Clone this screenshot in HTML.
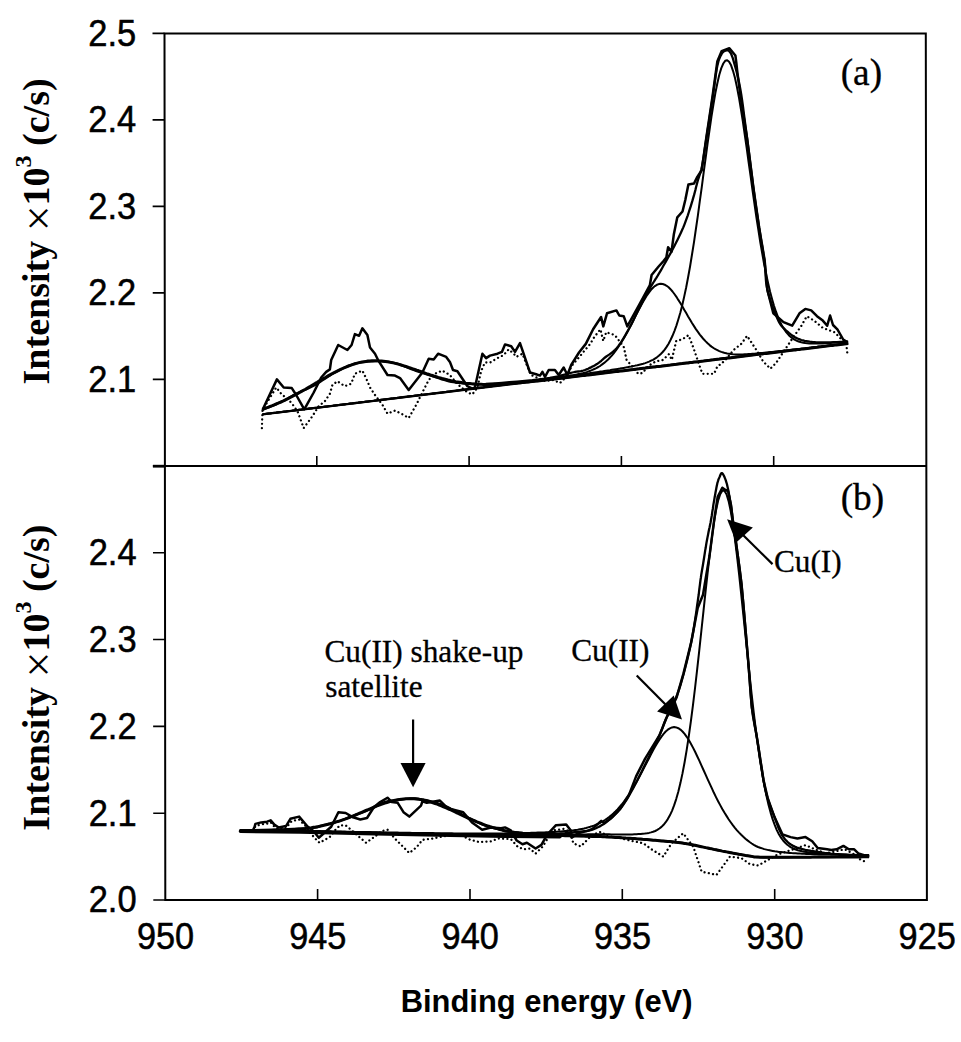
<!DOCTYPE html>
<html><head><meta charset="utf-8"><style>
html,body{margin:0;padding:0;background:#fff;width:961px;height:1042px;overflow:hidden}
svg{display:block}
</style></head><body>
<svg width="961" height="1042" viewBox="0 0 961 1042">
<path d="M164.50,33.4 L925.80,33.4 L926.90,900.0 L165.30,900.0 Z M164.90,465.9 L926.35,465.9" fill="none" stroke="#000" stroke-width="2.0"/>
<path d="M152.90,465.9H164.90 M153.30,900.0H165.30 M152.82,379.4H164.82 M153.22,813.2H165.22 M152.74,292.9H164.74 M153.14,726.4H165.14 M152.66,206.4H164.66 M153.06,639.5H165.06 M152.58,119.9H164.58 M152.98,552.7H164.98 M152.50,33.4H164.50 M152.90,465.9H164.90 M316.8,465.9v-10 M317.6,900.0v-11 M469.1,465.9v-10 M470.0,900.0v-11 M621.4,465.9v-10 M622.3,900.0v-11 M773.7,465.9v-10 M774.7,900.0v-11" stroke="#000" stroke-width="1.6" fill="none"/>
<path d="M152.90,466.2 H164.90" stroke="#000" stroke-width="2.8" fill="none"/>
<g font-family="Liberation Sans, sans-serif" font-size="35" stroke="#000" stroke-width="0.5"><text transform="translate(136.2,391.7) scale(0.985,1.06)" text-anchor="end">2.1</text><text transform="translate(136.2,305.2) scale(0.985,1.06)" text-anchor="end">2.2</text><text transform="translate(136.2,218.7) scale(0.985,1.06)" text-anchor="end">2.3</text><text transform="translate(136.2,132.2) scale(0.985,1.06)" text-anchor="end">2.4</text><text transform="translate(136.2,45.7) scale(0.985,1.06)" text-anchor="end">2.5</text><text transform="translate(136.6,912.4) scale(0.985,1.06)" text-anchor="end">2.0</text><text transform="translate(136.6,825.6) scale(0.985,1.06)" text-anchor="end">2.1</text><text transform="translate(136.6,738.8) scale(0.985,1.06)" text-anchor="end">2.2</text><text transform="translate(136.6,651.9) scale(0.985,1.06)" text-anchor="end">2.3</text><text transform="translate(136.6,565.1) scale(0.985,1.06)" text-anchor="end">2.4</text><text transform="translate(165.5,948.6) scale(0.98,1.03)" text-anchor="middle">950</text><text transform="translate(317.8,948.6) scale(0.98,1.03)" text-anchor="middle">945</text><text transform="translate(470.2,948.6) scale(0.98,1.03)" text-anchor="middle">940</text><text transform="translate(622.5,948.6) scale(0.98,1.03)" text-anchor="middle">935</text><text transform="translate(774.9,948.6) scale(0.98,1.03)" text-anchor="middle">930</text><text transform="translate(927.2,948.6) scale(0.98,1.03)" text-anchor="middle">925</text></g>
<text x="546.6" y="1012.3" text-anchor="middle" font-family="Liberation Sans, sans-serif" font-weight="bold" font-size="30.9">Binding energy (eV)</text>
<text transform="translate(49,231.4) rotate(-90)" text-anchor="middle" font-family="Liberation Serif, serif" font-weight="bold" font-size="38">Intensity <tspan font-weight="normal" font-size="46" dy="4.5">&#215;</tspan><tspan dy="-4.5">10</tspan><tspan dy="-18" font-size="24">3</tspan><tspan dy="18"> (c/s)</tspan></text>
<text transform="translate(49,677.6) rotate(-90)" text-anchor="middle" font-family="Liberation Serif, serif" font-weight="bold" font-size="38">Intensity <tspan font-weight="normal" font-size="46" dy="4.5">&#215;</tspan><tspan dy="-4.5">10</tspan><tspan dy="-18" font-size="24">3</tspan><tspan dy="18"> (c/s)</tspan></text>
<g font-family="Liberation Serif, serif" font-size="37.3" stroke="#000" stroke-width="0.3"><text x="840.7" y="84.5">(a)</text><text x="840.7" y="510.3">(b)</text></g>
<g font-family="Liberation Serif, serif" font-size="31.3" stroke="#000" stroke-width="0.3"><text transform="translate(324.5,661.9) scale(1,1.04)">Cu(II) shake-up</text><text transform="translate(325.3,696.9) scale(1,1.04)">satellite</text><text transform="translate(571.2,661) scale(1,1.04)">Cu(II)</text><text transform="translate(773.9,571.7) scale(1,1.04)">Cu(I)</text></g>
<path d="M262.5,414.4 L848.2,343.5" stroke="#000" stroke-width="2.2" fill="none"/>
<path d="M262.5,414.2 L264.5,414.0 L266.4,413.8 L268.4,413.5 L270.3,413.3 L272.3,413.0 L274.2,412.8 L276.2,412.6 L278.1,412.3 L280.1,412.1 L282.0,411.9 L284.0,411.6 L285.9,411.4 L287.9,411.1 L289.8,410.9 L291.8,410.7 L293.7,410.4 L295.7,410.2 L297.6,410.0 L299.6,409.7 L301.5,409.5 L303.5,409.2 L305.5,409.0 L307.4,408.8 L309.4,408.5 L311.3,408.3 L313.3,408.1 L315.2,407.8 L317.2,407.6 L319.1,407.3 L321.1,407.1 L323.0,406.9 L325.0,406.6 L326.9,406.4 L328.9,406.1 L330.8,405.9 L332.8,405.7 L334.7,405.4 L336.7,405.2 L338.6,405.0 L340.6,404.7 L342.5,404.5 L344.5,404.2 L346.5,404.0 L348.4,403.8 L350.4,403.5 L352.3,403.3 L354.3,403.0 L356.2,402.8 L358.2,402.6 L360.1,402.3 L362.1,402.1 L364.0,401.9 L366.0,401.6 L367.9,401.4 L369.9,401.1 L371.8,400.9 L373.8,400.7 L375.7,400.4 L377.7,400.2 L379.6,399.9 L381.6,399.7 L383.5,399.5 L385.5,399.2 L387.4,399.0 L389.4,398.7 L391.4,398.5 L393.3,398.3 L395.3,398.0 L397.2,397.8 L399.2,397.5 L401.1,397.3 L403.1,397.1 L405.0,396.8 L407.0,396.6 L408.9,396.3 L410.9,396.1 L412.8,395.9 L414.8,395.6 L416.7,395.4 L418.7,395.1 L420.6,394.9 L422.6,394.7 L424.5,394.4 L426.5,394.2 L428.4,393.9 L430.4,393.7 L432.4,393.5 L434.3,393.2 L436.3,393.0 L438.2,392.7 L440.2,392.5 L442.1,392.3 L444.1,392.0 L446.0,391.8 L448.0,391.5 L449.9,391.3 L451.9,391.0 L453.8,390.8 L455.8,390.6 L457.7,390.3 L459.7,390.1 L461.6,389.8 L463.6,389.6 L465.5,389.4 L467.5,389.1 L469.4,388.9 L471.4,388.6 L473.4,388.4 L475.3,388.1 L477.3,387.9 L479.2,387.6 L481.2,387.4 L483.1,387.2 L485.1,386.9 L487.0,386.7 L489.0,386.4 L490.9,386.2 L492.9,385.9 L494.8,385.7 L496.8,385.4 L498.7,385.2 L500.7,384.9 L502.6,384.7 L504.6,384.5 L506.5,384.2 L508.5,384.0 L510.4,383.7 L512.4,383.5 L514.4,383.2 L516.3,383.0 L518.3,382.7 L520.2,382.5 L522.2,382.2 L524.1,382.0 L526.1,381.7 L528.0,381.5 L530.0,381.2 L531.9,381.0 L533.9,380.7 L535.8,380.5 L537.8,380.2 L539.7,380.0 L541.7,379.7 L543.6,379.4 L545.6,379.2 L547.5,378.9 L549.5,378.7 L551.4,378.4 L553.4,378.2 L555.4,377.9 L557.3,377.6 L559.3,377.4 L561.2,377.1 L563.2,376.9 L565.1,376.6 L567.1,376.3 L569.0,376.1 L571.0,375.8 L572.9,375.5 L574.9,375.3 L576.8,375.0 L578.8,374.7 L580.7,374.5 L582.7,374.2 L584.6,373.9 L586.6,373.6 L588.5,373.4 L590.5,373.1 L592.4,372.8 L594.4,372.5 L596.3,372.2 L598.3,371.9 L600.3,371.6 L602.2,371.4 L604.2,371.1 L606.1,370.8 L608.1,370.5 L610.0,370.2 L612.0,369.8 L613.9,369.5 L615.9,369.2 L617.8,368.9 L619.8,368.6 L621.7,368.2 L623.7,367.9 L625.6,367.6 L627.6,367.2 L629.5,366.8 L631.5,366.5 L633.4,366.1 L635.4,365.6 L637.3,365.2 L639.3,364.7 L641.3,364.2 L643.2,363.7 L645.2,363.1 L647.1,362.4 L649.1,361.6 L651.0,360.7 L653.0,359.8 L654.9,358.6 L656.9,357.3 L658.8,355.8 L660.8,354.0 L662.7,352.0 L664.7,349.6 L666.6,346.9 L668.6,343.7 L670.5,340.0 L672.5,335.8 L674.4,331.1 L676.4,325.6 L678.3,319.5 L680.3,312.7 L682.3,305.0 L684.2,296.6 L686.2,287.3 L688.1,277.2 L690.1,266.3 L692.0,254.5 L694.0,242.1 L695.9,229.0 L697.9,215.3 L699.8,201.2 L701.8,186.8 L703.7,172.2 L705.7,157.7 L707.6,143.4 L709.6,129.5 L711.5,116.3 L713.5,104.0 L715.4,92.8 L717.4,83.0 L719.3,74.7 L721.3,68.1 L723.3,63.5 L725.2,60.8 L727.2,60.2 L729.1,61.7 L731.1,65.3 L733.0,70.8 L735.0,78.0 L736.9,86.9 L738.9,97.2 L740.8,108.7 L742.8,121.2 L744.7,134.4 L746.7,148.1 L748.6,162.1 L750.6,176.2 L752.5,190.2 L754.5,204.0 L756.4,217.3 L758.4,230.1 L760.3,242.3 L762.3,253.8 L764.2,264.5 L766.2,274.4 L768.2,283.5 L770.1,291.8 L772.1,299.2 L774.0,305.8 L776.0,311.7 L777.9,316.9 L779.9,321.4 L781.8,325.3 L783.8,328.7 L785.7,331.5 L787.7,333.9 L789.6,336.0 L791.6,337.6 L793.5,339.0 L795.5,340.1 L797.4,341.0 L799.4,341.8 L801.3,342.3 L803.3,342.7 L805.2,343.1 L807.2,343.3 L809.2,343.5 L811.1,343.6 L813.1,343.6 L815.0,343.6 L817.0,343.6 L818.9,343.6 L820.9,343.5 L822.8,343.4 L824.8,343.3 L826.7,343.2 L828.7,343.1 L830.6,342.9 L832.6,342.8 L834.5,342.6 L836.5,342.5 L838.4,342.3 L840.4,342.2 L842.3,342.0 L844.3,341.8 L846.2,341.7 L848.2,341.5" stroke="#000" stroke-width="2.0" fill="none" stroke-linejoin="round"/>
<path d="M262.5,414.3 L264.5,414.1 L266.4,413.8 L268.4,413.6 L270.3,413.4 L272.3,413.1 L274.2,412.9 L276.2,412.7 L278.1,412.4 L280.1,412.2 L282.0,411.9 L284.0,411.7 L285.9,411.5 L287.9,411.2 L289.8,411.0 L291.8,410.8 L293.7,410.5 L295.7,410.3 L297.6,410.0 L299.6,409.8 L301.5,409.6 L303.5,409.3 L305.5,409.1 L307.4,408.9 L309.4,408.6 L311.3,408.4 L313.3,408.1 L315.2,407.9 L317.2,407.7 L319.1,407.4 L321.1,407.2 L323.0,407.0 L325.0,406.7 L326.9,406.5 L328.9,406.3 L330.8,406.0 L332.8,405.8 L334.7,405.5 L336.7,405.3 L338.6,405.1 L340.6,404.8 L342.5,404.6 L344.5,404.4 L346.5,404.1 L348.4,403.9 L350.4,403.6 L352.3,403.4 L354.3,403.2 L356.2,402.9 L358.2,402.7 L360.1,402.4 L362.1,402.2 L364.0,402.0 L366.0,401.7 L367.9,401.5 L369.9,401.3 L371.8,401.0 L373.8,400.8 L375.7,400.5 L377.7,400.3 L379.6,400.1 L381.6,399.8 L383.5,399.6 L385.5,399.4 L387.4,399.1 L389.4,398.9 L391.4,398.6 L393.3,398.4 L395.3,398.2 L397.2,397.9 L399.2,397.7 L401.1,397.4 L403.1,397.2 L405.0,397.0 L407.0,396.7 L408.9,396.5 L410.9,396.3 L412.8,396.0 L414.8,395.8 L416.7,395.5 L418.7,395.3 L420.6,395.1 L422.6,394.8 L424.5,394.6 L426.5,394.3 L428.4,394.1 L430.4,393.9 L432.4,393.6 L434.3,393.4 L436.3,393.1 L438.2,392.9 L440.2,392.7 L442.1,392.4 L444.1,392.2 L446.0,391.9 L448.0,391.7 L449.9,391.5 L451.9,391.2 L453.8,391.0 L455.8,390.7 L457.7,390.5 L459.7,390.3 L461.6,390.0 L463.6,389.8 L465.5,389.5 L467.5,389.3 L469.4,389.1 L471.4,388.8 L473.4,388.6 L475.3,388.3 L477.3,388.1 L479.2,387.8 L481.2,387.6 L483.1,387.4 L485.1,387.1 L487.0,386.9 L489.0,386.6 L490.9,386.4 L492.9,386.1 L494.8,385.9 L496.8,385.6 L498.7,385.4 L500.7,385.2 L502.6,384.9 L504.6,384.7 L506.5,384.4 L508.5,384.2 L510.4,383.9 L512.4,383.7 L514.4,383.4 L516.3,383.2 L518.3,382.9 L520.2,382.7 L522.2,382.4 L524.1,382.2 L526.1,381.9 L528.0,381.7 L530.0,381.4 L531.9,381.2 L533.9,380.9 L535.8,380.7 L537.8,380.4 L539.7,380.1 L541.7,379.9 L543.6,379.6 L545.6,379.4 L547.5,379.1 L549.5,378.8 L551.4,378.6 L553.4,378.3 L555.4,378.0 L557.3,377.8 L559.3,377.5 L561.2,377.2 L563.2,376.9 L565.1,376.6 L567.1,376.3 L569.0,376.0 L571.0,375.6 L572.9,375.3 L574.9,374.9 L576.8,374.5 L578.8,374.1 L580.7,373.7 L582.7,373.2 L584.6,372.6 L586.6,372.1 L588.5,371.4 L590.5,370.7 L592.4,369.9 L594.4,369.0 L596.3,368.1 L598.3,367.0 L600.3,365.8 L602.2,364.4 L604.2,362.9 L606.1,361.3 L608.1,359.5 L610.0,357.5 L612.0,355.3 L613.9,353.0 L615.9,350.5 L617.8,347.7 L619.8,344.8 L621.7,341.7 L623.7,338.5 L625.6,335.0 L627.6,331.5 L629.5,327.8 L631.5,324.0 L633.4,320.2 L635.4,316.3 L637.3,312.5 L639.3,308.7 L641.3,305.0 L643.2,301.5 L645.2,298.2 L647.1,295.1 L649.1,292.3 L651.0,289.8 L653.0,287.7 L654.9,286.1 L656.9,284.8 L658.8,284.1 L660.8,283.8 L662.7,284.0 L664.7,284.7 L666.6,285.8 L668.6,287.3 L670.5,289.2 L672.5,291.5 L674.4,294.0 L676.4,296.8 L678.3,299.9 L680.3,303.0 L682.3,306.3 L684.2,309.7 L686.2,313.1 L688.1,316.4 L690.1,319.7 L692.0,323.0 L694.0,326.1 L695.9,329.1 L697.9,331.9 L699.8,334.6 L701.8,337.0 L703.7,339.3 L705.7,341.4 L707.6,343.3 L709.6,345.1 L711.5,346.6 L713.5,348.0 L715.4,349.2 L717.4,350.2 L719.3,351.1 L721.3,351.9 L723.3,352.5 L725.2,353.1 L727.2,353.5 L729.1,353.8 L731.1,354.1 L733.0,354.3 L735.0,354.4 L736.9,354.4 L738.9,354.5 L740.8,354.5 L742.8,354.4 L744.7,354.3 L746.7,354.2 L748.6,354.1 L750.6,354.0 L752.5,353.8 L754.5,353.7 L756.4,353.5 L758.4,353.3 L760.3,353.1 L762.3,352.9 L764.2,352.7 L766.2,352.5 L768.2,352.3 L770.1,352.1 L772.1,351.9 L774.0,351.7 L776.0,351.5 L777.9,351.3 L779.9,351.1 L781.8,350.9 L783.8,350.6 L785.7,350.4 L787.7,350.2 L789.6,350.0 L791.6,349.8 L793.5,349.5 L795.5,349.3 L797.4,349.1 L799.4,348.9 L801.3,348.7 L803.3,348.4 L805.2,348.2 L807.2,348.0 L809.2,347.8 L811.1,347.5 L813.1,347.3 L815.0,347.1 L817.0,346.9 L818.9,346.6 L820.9,346.4 L822.8,346.2 L824.8,345.9 L826.7,345.7 L828.7,345.5 L830.6,345.3 L832.6,345.0 L834.5,344.8 L836.5,344.6 L838.4,344.3 L840.4,344.1 L842.3,343.9 L844.3,343.7 L846.2,343.4 L848.2,343.2" stroke="#000" stroke-width="2.0" fill="none" stroke-linejoin="round"/>
<path d="M262.5,409.1 L264.5,408.4 L266.4,407.8 L268.4,407.1 L270.3,406.3 L272.3,405.6 L274.2,404.8 L276.2,404.0 L278.1,403.2 L280.1,402.3 L282.0,401.5 L284.0,400.6 L285.9,399.6 L287.9,398.7 L289.8,397.7 L291.8,396.7 L293.7,395.7 L295.7,394.7 L297.6,393.6 L299.6,392.5 L301.5,391.4 L303.5,390.3 L305.5,389.2 L307.4,388.0 L309.4,386.9 L311.3,385.7 L313.3,384.6 L315.2,383.4 L317.2,382.3 L319.1,381.1 L321.1,380.0 L323.0,378.8 L325.0,377.7 L326.9,376.6 L328.9,375.4 L330.8,374.4 L332.8,373.3 L334.7,372.3 L336.7,371.3 L338.6,370.3 L340.6,369.4 L342.5,368.5 L344.5,367.6 L346.5,366.8 L348.4,366.0 L350.4,365.3 L352.3,364.6 L354.3,364.0 L356.2,363.4 L358.2,362.9 L360.1,362.4 L362.1,362.0 L364.0,361.7 L366.0,361.4 L367.9,361.1 L369.9,360.9 L371.8,360.8 L373.8,360.8 L375.7,360.7 L377.7,360.8 L379.6,360.9 L381.6,361.0 L383.5,361.2 L385.5,361.5 L387.4,361.8 L389.4,362.1 L391.4,362.5 L393.3,362.9 L395.3,363.4 L397.2,363.9 L399.2,364.4 L401.1,365.0 L403.1,365.6 L405.0,366.2 L407.0,366.8 L408.9,367.5 L410.9,368.1 L412.8,368.8 L414.8,369.5 L416.7,370.2 L418.7,370.8 L420.6,371.5 L422.6,372.2 L424.5,372.9 L426.5,373.6 L428.4,374.2 L430.4,374.9 L432.4,375.5 L434.3,376.2 L436.3,376.8 L438.2,377.4 L440.2,377.9 L442.1,378.5 L444.1,379.0 L446.0,379.5 L448.0,380.0 L449.9,380.4 L451.9,380.9 L453.8,381.3 L455.8,381.7 L457.7,382.0 L459.7,382.3 L461.6,382.6 L463.6,382.9 L465.5,383.2 L467.5,383.4 L469.4,383.6 L471.4,383.8 L473.4,383.9 L475.3,384.1 L477.3,384.2 L479.2,384.3 L481.2,384.3 L483.1,384.4 L485.1,384.4 L487.0,384.4 L489.0,384.4 L490.9,384.4 L492.9,384.4 L494.8,384.3 L496.8,384.3 L498.7,384.2 L500.7,384.1 L502.6,384.0 L504.6,383.9 L506.5,383.8 L508.5,383.6 L510.4,383.5 L512.4,383.3 L514.4,383.2 L516.3,383.0 L518.3,382.8 L520.2,382.7 L522.2,382.5 L524.1,382.3 L526.1,382.1 L528.0,381.9 L530.0,381.7 L531.9,381.5 L533.9,381.3 L535.8,381.1 L537.8,380.9 L539.7,380.7 L541.7,380.4 L543.6,380.2 L545.6,380.0 L547.5,379.8 L549.5,379.6 L551.4,379.3 L553.4,379.1 L555.4,378.9 L557.3,378.6 L559.3,378.4 L561.2,378.2 L563.2,378.0 L565.1,377.7 L567.1,377.5 L569.0,377.3 L571.0,377.0 L572.9,376.8 L574.9,376.6 L576.8,376.3 L578.8,376.1 L580.7,375.8 L582.7,375.6 L584.6,375.4 L586.6,375.1 L588.5,374.9 L590.5,374.7 L592.4,374.4 L594.4,374.2 L596.3,374.0 L598.3,373.7 L600.3,373.5 L602.2,373.3 L604.2,373.0 L606.1,372.8 L608.1,372.5 L610.0,372.3 L612.0,372.1 L613.9,371.8 L615.9,371.6 L617.8,371.4 L619.8,371.1 L621.7,370.9 L623.7,370.7 L625.6,370.4 L627.6,370.2 L629.5,369.9 L631.5,369.7 L633.4,369.5 L635.4,369.2 L637.3,369.0 L639.3,368.8 L641.3,368.5 L643.2,368.3 L645.2,368.1 L647.1,367.8 L649.1,367.6 L651.0,367.3 L653.0,367.1 L654.9,366.9 L656.9,366.6 L658.8,366.4 L660.8,366.2 L662.7,365.9 L664.7,365.7 L666.6,365.5 L668.6,365.2 L670.5,365.0 L672.5,364.7 L674.4,364.5 L676.4,364.3 L678.3,364.0 L680.3,363.8 L682.3,363.6 L684.2,363.3 L686.2,363.1 L688.1,362.9 L690.1,362.6 L692.0,362.4 L694.0,362.1 L695.9,361.9 L697.9,361.7 L699.8,361.4 L701.8,361.2 L703.7,361.0 L705.7,360.7 L707.6,360.5 L709.6,360.3 L711.5,360.0 L713.5,359.8 L715.4,359.5 L717.4,359.3 L719.3,359.1 L721.3,358.8 L723.3,358.6 L725.2,358.4 L727.2,358.1 L729.1,357.9 L731.1,357.7 L733.0,357.4 L735.0,357.2 L736.9,356.9 L738.9,356.7 L740.8,356.5 L742.8,356.2 L744.7,356.0 L746.7,355.8 L748.6,355.5 L750.6,355.3 L752.5,355.1 L754.5,354.8 L756.4,354.6 L758.4,354.3 L760.3,354.1 L762.3,353.9 L764.2,353.6 L766.2,353.4 L768.2,353.2 L770.1,352.9 L772.1,352.7 L774.0,352.5 L776.0,352.2 L777.9,352.0 L779.9,351.7 L781.8,351.5 L783.8,351.3 L785.7,351.0 L787.7,350.8 L789.6,350.6 L791.6,350.3 L793.5,350.1 L795.5,349.9 L797.4,349.6 L799.4,349.4 L801.3,349.1 L803.3,348.9 L805.2,348.7 L807.2,348.4 L809.2,348.2 L811.1,348.0 L813.1,347.7 L815.0,347.5 L817.0,347.3 L818.9,347.0 L820.9,346.8 L822.8,346.5 L824.8,346.3 L826.7,346.1 L828.7,345.8 L830.6,345.6 L832.6,345.4 L834.5,345.1 L836.5,344.9 L838.4,344.7 L840.4,344.4 L842.3,344.2 L844.3,343.9 L846.2,343.7 L848.2,343.5" stroke="#000" stroke-width="3.0" fill="none" stroke-linejoin="round"/>
<path d="M262.5,410.0 L264.2,409.3 L266.4,408.3 L269.1,407.2 L272.1,406.0 L275.2,404.6 L278.2,403.3 L280.9,402.1 L283.3,401.0 L285.3,400.0 L286.9,399.1 L288.5,398.2 L289.9,397.3 L291.3,396.5 L292.7,395.6 L294.4,394.7 L296.2,393.7 L298.3,392.7 L300.5,391.7 L302.8,390.7 L305.2,389.7 L307.6,388.6 L310.1,387.5 L312.6,386.3 L315.0,385.0 L317.4,383.6 L319.9,382.1 L322.4,380.4 L324.9,378.8 L327.4,377.1 L329.9,375.5 L332.4,373.9 L334.9,372.5 L337.4,371.2 L339.9,369.9 L342.4,368.7 L344.9,367.5 L347.4,366.4 L349.9,365.4 L352.4,364.5 L354.9,363.7 L357.4,363.1 L359.9,362.5 L362.4,362.1 L364.9,361.8 L367.5,361.5 L370.0,361.4 L372.5,361.3 L375.0,361.2 L377.5,361.2 L380.0,361.2 L382.6,361.4 L385.1,361.6 L387.6,361.8 L390.1,362.2 L392.6,362.6 L395.0,363.1 L397.4,363.7 L399.8,364.5 L402.1,365.4 L404.4,366.3 L406.7,367.2 L409.1,368.2 L411.4,369.1 L413.7,370.0 L416.0,370.8 L418.4,371.6 L420.7,372.4 L423.0,373.2 L425.4,373.9 L427.7,374.7 L430.1,375.5 L432.4,376.2 L434.7,377.0 L437.1,377.7 L439.4,378.5 L441.8,379.3 L444.2,380.0 L446.5,380.7 L448.9,381.3 L451.2,381.8 L453.5,382.2 L455.8,382.6 L458.2,382.9 L460.5,383.1 L462.8,383.3 L465.1,383.4 L467.5,383.6 L469.9,383.7 L472.1,383.8 L474.0,384.0 L475.8,384.1 L477.7,384.1 L479.8,384.1 L482.5,384.1 L485.8,384.0 L490.0,383.7 L495.4,383.3 L501.9,382.8 L509.3,382.2 L517.0,381.6 L524.9,380.9 L532.4,380.2 L539.2,379.4 L545.0,378.7 L549.8,378.0 L554.1,377.1 L558.0,376.3 L561.4,375.4 L564.4,374.6 L567.2,373.8 L569.9,373.1 L572.4,372.5 L574.7,372.0 L576.6,371.7 L578.2,371.5 L579.6,371.3 L580.9,371.1 L582.1,370.8 L583.4,370.5 L584.9,370.0 L586.5,369.4 L588.1,368.7 L589.8,367.9 L591.5,367.1 L593.1,366.2 L594.6,365.4 L596.1,364.5 L597.4,363.7 L598.6,362.9 L599.6,362.2 L600.4,361.5 L601.3,360.8 L602.1,360.0 L602.9,359.3 L603.9,358.4 L605.0,357.5 L606.3,356.5 L607.6,355.6 L609.1,354.6 L610.5,353.6 L612.1,352.5 L613.6,351.2 L615.1,349.8 L616.6,348.2 L618.1,346.4 L619.5,344.4 L621.0,342.3 L622.4,340.0 L623.9,337.6 L625.4,335.1 L626.8,332.6 L628.3,330.0 L629.8,327.3 L631.3,324.4 L632.8,321.4 L634.3,318.3 L635.7,315.2 L637.2,312.2 L638.6,309.3 L640.0,306.6 L641.3,304.0 L642.7,301.5 L643.9,299.1 L645.2,296.8 L646.4,294.5 L647.6,292.3 L648.8,290.3 L649.9,288.3 L650.9,286.5 L651.9,284.9 L652.8,283.4 L653.7,282.0 L654.6,280.6 L655.5,279.2 L656.5,277.7 L657.5,276.0 L658.6,274.1 L659.8,272.2 L661.0,270.1 L662.2,268.0 L663.4,265.8 L664.6,263.7 L665.8,261.6 L666.9,259.6 L668.0,257.7 L669.0,255.9 L670.0,254.2 L671.0,252.4 L671.9,250.7 L672.9,248.8 L673.9,246.9 L675.0,244.8 L676.1,242.6 L677.3,240.2 L678.5,237.8 L679.7,235.3 L680.9,232.7 L682.1,230.1 L683.3,227.4 L684.4,224.6 L685.5,221.7 L686.6,218.7 L687.7,215.6 L688.7,212.5 L689.7,209.4 L690.7,206.3 L691.6,203.3 L692.5,200.4 L693.3,197.6 L694.1,194.9 L694.8,192.2 L695.5,189.6 L696.1,187.1 L696.7,184.7 L697.3,182.4 L697.9,180.2 L698.5,178.3 L699.0,176.8 L699.5,175.4 L699.9,174.2 L700.4,172.8 L700.9,171.2 L701.4,169.2 L701.9,166.7 L702.5,163.6 L703.1,160.2 L703.7,156.4 L704.3,152.4 L704.9,148.1 L705.6,143.8 L706.2,139.4 L706.9,135.0 L707.6,130.5 L708.3,125.9 L709.1,121.1 L709.8,116.2 L710.6,111.3 L711.3,106.5 L712.0,101.8 L712.7,97.4 L713.3,93.0 L713.9,88.7 L714.5,84.3 L715.1,80.1 L715.6,76.1 L716.2,72.3 L716.7,69.0 L717.3,66.0 L717.9,63.5 L718.4,61.4 L718.9,59.7 L719.5,58.3 L720.0,57.0 L720.5,55.9 L721.1,55.0 L721.6,54.0 L722.1,53.1 L722.7,52.4 L723.2,51.9 L723.8,51.4 L724.3,51.1 L724.9,50.9 L725.4,50.7 L725.9,50.5 L726.4,50.4 L726.8,50.3 L727.3,50.2 L727.7,50.2 L728.2,50.4 L728.6,50.6 L729.0,51.0 L729.5,51.5 L729.9,52.1 L730.4,52.6 L730.8,53.2 L731.2,54.0 L731.6,55.0 L732.1,56.3 L732.7,57.9 L733.3,60.0 L734.0,62.5 L734.8,65.3 L735.7,68.4 L736.6,71.8 L737.5,75.6 L738.5,79.7 L739.4,84.2 L740.3,89.0 L741.2,94.3 L742.1,100.2 L743.0,106.6 L743.8,113.2 L744.7,120.0 L745.6,126.8 L746.5,133.5 L747.3,140.0 L748.1,146.4 L749.0,152.9 L749.8,159.4 L750.6,165.8 L751.4,172.2 L752.2,178.4 L752.9,184.3 L753.7,190.0 L754.4,195.4 L755.1,200.4 L755.8,205.3 L756.5,210.0 L757.2,214.6 L757.9,219.1 L758.5,223.5 L759.2,228.0 L759.9,232.5 L760.6,236.9 L761.3,241.3 L762.1,245.6 L762.8,249.9 L763.4,254.0 L764.1,258.1 L764.6,262.0 L765.0,265.8 L765.3,269.4 L765.5,272.9 L765.7,276.3 L765.9,279.7 L766.2,283.1 L766.7,286.5 L767.4,290.0 L768.3,293.7 L769.5,297.6 L770.8,301.7 L772.2,305.7 L773.7,309.5 L775.1,313.1 L776.4,316.4 L777.6,319.1 L778.6,321.3 L779.5,323.0 L780.4,324.4 L781.2,325.5 L782.0,326.4 L782.8,327.3 L783.8,328.2 L784.9,329.3 L786.1,330.5 L787.5,331.7 L788.9,332.9 L790.4,334.1 L791.9,335.2 L793.5,336.3 L795.0,337.3 L796.6,338.1 L798.2,338.8 L799.7,339.4 L801.3,340.0 L803.0,340.4 L804.6,340.8 L806.3,341.1 L808.0,341.4 L809.7,341.7 L811.4,341.9 L813.0,342.1 L814.7,342.2 L816.4,342.3 L818.1,342.4 L820.0,342.4 L822.0,342.4 L824.3,342.4 L827.0,342.4 L830.1,342.3 L833.4,342.2 L836.9,342.1 L840.2,342.0 L843.2,341.9 L845.7,341.8 L847.6,341.7" stroke="#000" stroke-width="2.3" fill="none" stroke-linejoin="round"/>
<path d="M262.5,410.0 L276.9,379.4 L283.7,387.5 L291.8,388.1 L296.2,395.0 L304.3,409.3 L313.7,392.5 L321.2,377.5 L326.2,371.9 L329.9,369.4 L331.2,360.0 L338.2,345.0 L347.4,350.0 L351.6,345.0 L354.9,334.1 L359.1,335.8 L362.4,328.3 L367.4,335.0 L370.0,347.5 L375.0,353.7 L378.7,361.2 L387.5,375.0 L395.0,375.6 L400.0,378.1 L408.7,390.0 L422.4,372.5 L428.7,358.7 L433.7,359.4 L438.1,353.7 L446.2,356.9 L449.9,361.9 L453.0,370.0 L457.4,371.2 L467.4,386.2 L472.4,388.7 L474.9,387.5 L482.4,353.7 L486.1,358.1 L490.0,355.6 L497.5,353.7 L501.9,351.9 L505.0,344.4 L511.2,346.2 L515.0,351.9 L520.0,343.1 L530.0,372.5 L536.2,374.3 L540.0,375.6 L542.4,371.8 L545.0,376.8 L548.7,370.0 L554.9,370.0 L558.7,375.0 L563.7,367.5 L567.4,375.0 L571.2,365.0 L579.0,352.5 L585.8,343.9 L593.1,329.3 L601.1,317.0 L603.3,326.4 L607.0,313.3 L616.4,310.4 L619.3,315.5 L623.7,316.2 L627.3,326.4 L640.0,303.3 L649.9,285.0 L651.6,275.0 L658.6,266.5 L663.5,261.1 L666.3,257.6 L668.1,247.2 L671.5,251.8 L673.8,234.6 L677.3,217.3 L682.5,211.5 L685.3,200.0 L688.4,184.6 L694.0,183.5 L697.3,176.9 L701.7,170.2 L706.1,139.3 L712.7,95.2 L717.3,61.6 L721.6,51.2 L729.4,48.2 L735.4,55.5 L736.3,62.5 L737.1,70.2 L740.3,95.2 L747.3,140.0 L753.7,190.0 L759.2,228.0 L764.6,260.0 L767.4,290.0 L773.3,313.3 L783.5,322.1 L792.2,325.7 L799.5,313.3 L805.3,308.9 L811.2,310.4 L817.0,316.2 L822.8,320.6 L827.2,325.7 L830.1,315.5 L833.0,325.0 L837.4,329.3 L843.2,339.5 L847.6,342.4" stroke="#000" stroke-width="2.5" fill="none" stroke-linejoin="round"/>
<path d="M261.9,428.1 L262.5,410.0 L276.2,387.5 L281.2,393.7 L291.2,402.5 L297.5,411.2 L303.7,428.1 L312.4,416.2 L318.7,406.2 L324.9,401.2 L329.9,393.7 L332.4,385.0 L337.4,381.2 L344.9,386.2 L351.2,383.7 L354.9,373.7 L362.4,370.6 L367.4,381.2 L370.0,387.5 L375.0,395.0 L382.5,404.9 L387.5,413.7 L395.0,410.6 L403.7,414.9 L408.7,418.0 L416.2,404.9 L422.4,392.4 L428.7,380.0 L434.9,373.7 L442.4,370.6 L449.9,375.0 L454.9,381.2 L459.9,386.2 L467.4,392.4 L472.4,394.3 L477.4,387.5 L481.1,371.2 L484.9,362.5 L490.0,362.5 L497.5,358.1 L503.7,355.0 L508.7,349.4 L513.7,353.7 L516.2,356.8 L522.5,353.7 L526.2,363.7 L531.0,375.0 L545.0,381.0 L553.0,380.0 L560.0,383.0 L566.0,377.0 L572.4,365.0 L579.9,356.2 L590.2,343.9 L594.6,336.6 L600.4,329.3 L603.3,341.0 L606.2,332.2 L615.0,335.2 L619.3,341.0 L623.7,346.8 L626.6,359.9 L638.3,373.8 L642.6,373.0 L648.5,365.8 L655.8,361.4 L663.0,359.9 L668.9,354.1 L671.8,359.9 L676.2,341.0 L682.0,339.5 L688.5,335.2 L693.6,348.3 L699.5,365.8 L702.4,373.8 L714.0,373.8 L717.7,365.8 L720.8,364.3 L726.7,358.5 L733.9,349.7 L741.2,343.9 L747.1,335.9 L751.4,342.4 L757.2,351.2 L763.1,361.4 L770.4,368.7 L776.2,362.8 L782.0,354.1 L787.8,345.4 L793.7,336.6 L801.0,326.4 L806.8,316.2 L814.1,320.6 L822.8,327.9 L834.5,332.2 L840.3,338.1 L846.1,342.4 L847.6,355.6" stroke="#000" stroke-width="2.3" fill="none" stroke-linecap="round" stroke-dasharray="0.01 4.3"/>
<path d="M240.1,830.5 L244.6,830.5 L250.5,830.6 L257.5,830.7 L265.4,830.7 L273.8,830.8 L282.6,830.9 L291.4,831.1 L300.0,831.2 L308.7,831.4 L317.7,831.6 L327.0,831.8 L336.6,832.0 L346.2,832.2 L355.9,832.5 L365.5,832.7 L375.0,832.9 L384.5,833.1 L394.2,833.3 L404.0,833.5 L413.8,833.7 L423.3,834.0 L432.7,834.2 L441.6,834.3 L450.0,834.5 L457.8,834.6 L465.2,834.8 L472.1,834.9 L478.8,835.0 L485.3,835.1 L491.7,835.2 L498.3,835.3 L505.0,835.4 L512.0,835.5 L519.1,835.5 L526.3,835.6 L533.4,835.6 L540.5,835.6 L547.3,835.7 L553.8,835.7 L560.0,835.8 L565.8,835.9 L571.4,836.0 L576.8,836.0 L581.9,836.1 L586.8,836.2 L591.4,836.3 L595.8,836.5 L600.0,836.6 L603.8,836.7 L607.3,836.9 L610.5,837.1 L613.4,837.2 L616.3,837.4 L619.1,837.6 L622.0,837.8 L625.0,838.0 L628.1,838.2 L631.1,838.4 L634.0,838.6 L637.0,838.8 L640.0,839.1 L643.2,839.3 L646.5,839.6 L650.0,839.9 L653.8,840.2 L657.7,840.5 L661.8,840.9 L666.1,841.3 L670.4,841.7 L674.7,842.1 L679.0,842.6 L683.2,843.2 L687.5,843.9 L691.9,844.7 L696.3,845.6 L700.8,846.5 L705.1,847.5 L709.2,848.4 L713.0,849.2 L716.5,849.9 L719.5,850.5 L722.2,851.0 L724.7,851.5 L726.9,852.0 L729.0,852.4 L731.0,852.7 L733.0,853.1 L735.0,853.5 L737.1,853.9 L739.1,854.3 L741.1,854.6 L743.0,855.0 L744.9,855.3 L746.7,855.6 L748.4,855.9 L750.0,856.1 L751.3,856.3 L752.1,856.5 L752.8,856.7 L753.4,856.8 L754.3,856.9 L755.5,857.0 L757.3,857.1 L760.0,857.2 L763.4,857.3 L767.2,857.3 L771.5,857.3 L776.3,857.3 L781.6,857.3 L787.3,857.3 L793.4,857.2 L800.0,857.2 L807.7,857.2 L816.8,857.1 L826.8,857.1 L837.0,857.0 L847.0,856.9 L856.0,856.9 L863.6,856.8 L869.1,856.8" stroke="#000" stroke-width="2.2" fill="none"/>
<path d="M240.1,830.3 L242.2,830.4 L244.3,830.4 L246.4,830.4 L248.5,830.4 L250.6,830.4 L252.7,830.5 L254.8,830.5 L256.9,830.5 L259.0,830.5 L261.1,830.5 L263.2,830.6 L265.3,830.6 L267.4,830.6 L269.5,830.6 L271.6,830.6 L273.6,830.7 L275.7,830.7 L277.8,830.7 L279.9,830.7 L282.0,830.7 L284.1,830.8 L286.2,830.8 L288.3,830.8 L290.4,830.9 L292.5,830.9 L294.6,830.9 L296.7,830.9 L298.8,831.0 L300.9,831.0 L303.0,831.1 L305.1,831.1 L307.2,831.1 L309.3,831.2 L311.4,831.2 L313.5,831.3 L315.6,831.3 L317.7,831.3 L319.8,831.4 L321.9,831.4 L324.0,831.5 L326.1,831.5 L328.2,831.6 L330.3,831.6 L332.4,831.7 L334.4,831.7 L336.5,831.8 L338.6,831.8 L340.7,831.8 L342.8,831.9 L344.9,831.9 L347.0,832.0 L349.1,832.0 L351.2,832.1 L353.3,832.1 L355.4,832.2 L357.5,832.2 L359.6,832.3 L361.7,832.3 L363.8,832.4 L365.9,832.4 L368.0,832.5 L370.1,832.5 L372.2,832.5 L374.3,832.6 L376.4,832.6 L378.5,832.7 L380.6,832.7 L382.7,832.8 L384.8,832.8 L386.9,832.8 L389.0,832.9 L391.1,832.9 L393.2,833.0 L395.3,833.0 L397.4,833.1 L399.4,833.1 L401.5,833.1 L403.6,833.2 L405.7,833.2 L407.8,833.3 L409.9,833.3 L412.0,833.3 L414.1,833.4 L416.2,833.4 L418.3,833.5 L420.4,833.5 L422.5,833.5 L424.6,833.6 L426.7,833.6 L428.8,833.7 L430.9,833.7 L433.0,833.7 L435.1,833.8 L437.2,833.8 L439.3,833.8 L441.4,833.9 L443.5,833.9 L445.6,833.9 L447.7,834.0 L449.8,834.0 L451.9,834.0 L454.0,834.1 L456.1,834.1 L458.2,834.1 L460.2,834.2 L462.3,834.2 L464.4,834.2 L466.5,834.3 L468.6,834.3 L470.7,834.3 L472.8,834.3 L474.9,834.4 L477.0,834.4 L479.1,834.4 L481.2,834.4 L483.3,834.5 L485.4,834.5 L487.5,834.5 L489.6,834.5 L491.7,834.6 L493.8,834.6 L495.9,834.6 L498.0,834.6 L500.1,834.6 L502.2,834.6 L504.3,834.6 L506.4,834.6 L508.5,834.7 L510.6,834.7 L512.7,834.7 L514.8,834.7 L516.9,834.7 L519.0,834.7 L521.1,834.7 L523.1,834.7 L525.2,834.6 L527.3,834.6 L529.4,834.6 L531.5,834.6 L533.6,834.6 L535.7,834.6 L537.8,834.6 L539.9,834.6 L542.0,834.6 L544.1,834.6 L546.2,834.5 L548.3,834.5 L550.4,834.5 L552.5,834.5 L554.6,834.5 L556.7,834.5 L558.8,834.5 L560.9,834.5 L563.0,834.5 L565.1,834.4 L567.2,834.4 L569.3,834.4 L571.4,834.4 L573.5,834.4 L575.6,834.4 L577.7,834.4 L579.8,834.4 L581.9,834.4 L584.0,834.4 L586.0,834.4 L588.1,834.3 L590.2,834.3 L592.3,834.3 L594.4,834.3 L596.5,834.3 L598.6,834.3 L600.7,834.3 L602.8,834.3 L604.9,834.3 L607.0,834.3 L609.1,834.3 L611.2,834.4 L613.3,834.4 L615.4,834.4 L617.5,834.4 L619.6,834.4 L621.7,834.5 L623.8,834.5 L625.9,834.5 L628.0,834.4 L630.1,834.4 L632.2,834.4 L634.3,834.3 L636.4,834.2 L638.5,834.1 L640.6,834.0 L642.7,833.8 L644.8,833.6 L646.9,833.3 L649.0,832.9 L651.0,832.4 L653.1,831.8 L655.2,831.0 L657.3,829.9 L659.4,828.5 L661.5,826.9 L663.6,824.8 L665.7,822.2 L667.8,819.1 L669.9,815.3 L672.0,810.8 L674.1,805.4 L676.2,799.1 L678.3,791.7 L680.4,783.1 L682.5,773.4 L684.6,762.3 L686.7,749.9 L688.8,736.2 L690.9,721.2 L693.0,704.9 L695.1,687.5 L697.2,669.2 L699.3,650.1 L701.4,630.5 L703.5,610.8 L705.6,591.2 L707.7,572.2 L709.8,554.2 L711.9,537.6 L713.9,522.9 L716.0,510.5 L718.1,500.8 L720.2,494.1 L722.3,490.7 L724.4,490.7 L726.5,494.2 L728.6,501.1 L730.7,511.0 L732.8,523.7 L734.9,538.8 L737.0,555.9 L739.1,574.5 L741.2,594.2 L743.3,614.5 L745.4,635.0 L747.5,655.5 L749.6,675.4 L751.7,694.8 L753.8,713.2 L755.9,730.3 L758.0,746.1 L760.1,760.5 L762.2,773.6 L764.3,785.3 L766.4,795.6 L768.5,804.7 L770.6,812.6 L772.7,819.4 L774.8,825.2 L776.8,830.1 L778.9,834.2 L781.0,837.7 L783.1,840.5 L785.2,842.8 L787.3,844.8 L789.4,846.3 L791.5,847.6 L793.6,848.7 L795.7,849.5 L797.8,850.2 L799.9,850.8 L802.0,851.3 L804.1,851.7 L806.2,852.0 L808.3,852.3 L810.4,852.6 L812.5,852.8 L814.6,853.0 L816.7,853.2 L818.8,853.3 L820.9,853.5 L823.0,853.6 L825.1,853.7 L827.2,853.8 L829.3,854.0 L831.4,854.1 L833.5,854.1 L835.6,854.2 L837.6,854.3 L839.7,854.4 L841.8,854.5 L843.9,854.5 L846.0,854.6 L848.1,854.7 L850.2,854.7 L852.3,854.8 L854.4,854.8 L856.5,854.9 L858.6,854.9 L860.7,855.0 L862.8,855.0 L864.9,855.1 L867.0,855.1 L869.1,855.1" stroke="#000" stroke-width="2.0" fill="none" stroke-linejoin="round"/>
<path d="M240.1,830.2 L242.2,830.2 L244.3,830.2 L246.4,830.2 L248.5,830.3 L250.6,830.3 L252.7,830.3 L254.8,830.3 L256.9,830.3 L259.0,830.3 L261.1,830.3 L263.2,830.4 L265.3,830.4 L267.4,830.4 L269.5,830.4 L271.6,830.4 L273.6,830.5 L275.7,830.5 L277.8,830.5 L279.9,830.5 L282.0,830.5 L284.1,830.6 L286.2,830.6 L288.3,830.6 L290.4,830.6 L292.5,830.7 L294.6,830.7 L296.7,830.7 L298.8,830.8 L300.9,830.8 L303.0,830.8 L305.1,830.9 L307.2,830.9 L309.3,830.9 L311.4,831.0 L313.5,831.0 L315.6,831.0 L317.7,831.1 L319.8,831.1 L321.9,831.2 L324.0,831.2 L326.1,831.3 L328.2,831.3 L330.3,831.3 L332.4,831.4 L334.4,831.4 L336.5,831.5 L338.6,831.5 L340.7,831.6 L342.8,831.6 L344.9,831.6 L347.0,831.7 L349.1,831.7 L351.2,831.8 L353.3,831.8 L355.4,831.9 L357.5,831.9 L359.6,831.9 L361.7,832.0 L363.8,832.0 L365.9,832.1 L368.0,832.1 L370.1,832.1 L372.2,832.2 L374.3,832.2 L376.4,832.3 L378.5,832.3 L380.6,832.3 L382.7,832.4 L384.8,832.4 L386.9,832.4 L389.0,832.5 L391.1,832.5 L393.2,832.5 L395.3,832.6 L397.4,832.6 L399.4,832.7 L401.5,832.7 L403.6,832.7 L405.7,832.8 L407.8,832.8 L409.9,832.8 L412.0,832.9 L414.1,832.9 L416.2,832.9 L418.3,832.9 L420.4,833.0 L422.5,833.0 L424.6,833.0 L426.7,833.1 L428.8,833.1 L430.9,833.1 L433.0,833.1 L435.1,833.2 L437.2,833.2 L439.3,833.2 L441.4,833.2 L443.5,833.3 L445.6,833.3 L447.7,833.3 L449.8,833.3 L451.9,833.3 L454.0,833.4 L456.1,833.4 L458.2,833.4 L460.2,833.4 L462.3,833.4 L464.4,833.4 L466.5,833.5 L468.6,833.5 L470.7,833.5 L472.8,833.5 L474.9,833.5 L477.0,833.5 L479.1,833.5 L481.2,833.5 L483.3,833.5 L485.4,833.5 L487.5,833.5 L489.6,833.5 L491.7,833.5 L493.8,833.5 L495.9,833.5 L498.0,833.5 L500.1,833.4 L502.2,833.4 L504.3,833.4 L506.4,833.4 L508.5,833.4 L510.6,833.3 L512.7,833.3 L514.8,833.3 L516.9,833.2 L519.0,833.2 L521.1,833.1 L523.1,833.1 L525.2,833.0 L527.3,833.0 L529.4,832.9 L531.5,832.8 L533.6,832.8 L535.7,832.7 L537.8,832.6 L539.9,832.5 L542.0,832.5 L544.1,832.4 L546.2,832.3 L548.3,832.2 L550.4,832.1 L552.5,832.0 L554.6,831.9 L556.7,831.7 L558.8,831.6 L560.9,831.5 L563.0,831.3 L565.1,831.1 L567.2,831.0 L569.3,830.7 L571.4,830.5 L573.5,830.3 L575.6,830.0 L577.7,829.7 L579.8,829.3 L581.9,828.9 L584.0,828.5 L586.0,828.0 L588.1,827.4 L590.2,826.8 L592.3,826.1 L594.4,825.4 L596.5,824.5 L598.6,823.6 L600.7,822.5 L602.8,821.3 L604.9,820.0 L607.0,818.6 L609.1,817.1 L611.2,815.4 L613.3,813.5 L615.4,811.5 L617.5,809.4 L619.6,807.0 L621.7,804.5 L623.8,801.8 L625.9,798.9 L628.0,795.8 L630.1,792.6 L632.2,789.2 L634.3,785.7 L636.4,782.0 L638.5,778.2 L640.6,774.3 L642.7,770.3 L644.8,766.3 L646.9,762.3 L649.0,758.2 L651.0,754.2 L653.1,750.3 L655.2,746.6 L657.3,743.0 L659.4,739.6 L661.5,736.6 L663.6,733.9 L665.7,731.5 L667.8,729.7 L669.9,728.3 L672.0,727.4 L674.1,727.1 L676.2,727.4 L678.3,728.2 L680.4,729.6 L682.5,731.5 L684.6,733.9 L686.7,736.8 L688.8,740.0 L690.9,743.7 L693.0,747.6 L695.1,751.8 L697.2,756.2 L699.3,760.7 L701.4,765.3 L703.5,770.0 L705.6,774.7 L707.7,779.3 L709.8,783.9 L711.9,788.4 L713.9,792.8 L716.0,797.1 L718.1,801.2 L720.2,805.1 L722.3,808.9 L724.4,812.5 L726.5,815.9 L728.6,819.2 L730.7,822.2 L732.8,825.1 L734.9,827.8 L737.0,830.3 L739.1,832.6 L741.2,834.8 L743.3,836.8 L745.4,838.7 L747.5,840.4 L749.6,842.0 L751.7,843.5 L753.8,844.9 L755.9,846.0 L758.0,847.0 L760.1,847.7 L762.2,848.4 L764.3,849.1 L766.4,849.6 L768.5,850.1 L770.6,850.5 L772.7,850.9 L774.8,851.3 L776.8,851.6 L778.9,851.9 L781.0,852.1 L783.1,852.3 L785.2,852.5 L787.3,852.7 L789.4,852.9 L791.5,853.1 L793.6,853.2 L795.7,853.3 L797.8,853.5 L799.9,853.6 L802.0,853.7 L804.1,853.8 L806.2,853.9 L808.3,854.0 L810.4,854.1 L812.5,854.1 L814.6,854.2 L816.7,854.3 L818.8,854.4 L820.9,854.4 L823.0,854.5 L825.1,854.5 L827.2,854.6 L829.3,854.6 L831.4,854.7 L833.5,854.7 L835.6,854.8 L837.6,854.8 L839.7,854.9 L841.8,854.9 L843.9,854.9 L846.0,855.0 L848.1,855.0 L850.2,855.0 L852.3,855.1 L854.4,855.1 L856.5,855.1 L858.6,855.1 L860.7,855.2 L862.8,855.2 L864.9,855.2 L867.0,855.2 L869.1,855.2" stroke="#000" stroke-width="2.0" fill="none" stroke-linejoin="round"/>
<path d="M240.1,830.5 L242.2,830.5 L244.3,830.5 L246.4,830.5 L248.5,830.5 L250.6,830.5 L252.7,830.5 L254.8,830.5 L256.9,830.5 L259.0,830.5 L261.1,830.5 L263.2,830.5 L265.3,830.4 L267.4,830.4 L269.5,830.4 L271.6,830.4 L273.6,830.3 L275.7,830.3 L277.8,830.2 L279.9,830.2 L282.0,830.1 L284.1,830.0 L286.2,829.9 L288.3,829.8 L290.4,829.7 L292.5,829.6 L294.6,829.5 L296.7,829.3 L298.8,829.1 L300.9,828.9 L303.0,828.7 L305.1,828.5 L307.2,828.2 L309.3,828.0 L311.4,827.7 L313.5,827.3 L315.6,827.0 L317.7,826.6 L319.8,826.2 L321.9,825.8 L324.0,825.3 L326.1,824.8 L328.2,824.3 L330.3,823.8 L332.4,823.2 L334.4,822.6 L336.5,821.9 L338.6,821.3 L340.7,820.6 L342.8,819.8 L344.9,819.1 L347.0,818.3 L349.1,817.5 L351.2,816.7 L353.3,815.8 L355.4,815.0 L357.5,814.1 L359.6,813.2 L361.7,812.3 L363.8,811.4 L365.9,810.5 L368.0,809.7 L370.1,808.8 L372.2,807.9 L374.3,807.0 L376.4,806.2 L378.5,805.4 L380.6,804.6 L382.7,803.9 L384.8,803.1 L386.9,802.5 L389.0,801.8 L391.1,801.2 L393.2,800.7 L395.3,800.2 L397.4,799.8 L399.4,799.5 L401.5,799.2 L403.6,799.0 L405.7,798.8 L407.8,798.7 L409.9,798.7 L412.0,798.7 L414.1,798.8 L416.2,799.0 L418.3,799.3 L420.4,799.6 L422.5,800.0 L424.6,800.4 L426.7,800.9 L428.8,801.5 L430.9,802.1 L433.0,802.8 L435.1,803.5 L437.2,804.2 L439.3,805.1 L441.4,805.9 L443.5,806.8 L445.6,807.7 L447.7,808.6 L449.8,809.5 L451.9,810.5 L454.0,811.5 L456.1,812.5 L458.2,813.4 L460.2,814.4 L462.3,815.4 L464.4,816.4 L466.5,817.3 L468.6,818.3 L470.7,819.2 L472.8,820.1 L474.9,821.0 L477.0,821.9 L479.1,822.7 L481.2,823.5 L483.3,824.3 L485.4,825.1 L487.5,825.8 L489.6,826.5 L491.7,827.1 L493.8,827.8 L495.9,828.4 L498.0,828.9 L500.1,829.5 L502.2,830.0 L504.3,830.5 L506.4,830.9 L508.5,831.3 L510.6,831.7 L512.7,832.1 L514.8,832.4 L516.9,832.7 L519.0,833.0 L521.1,833.2 L523.1,833.5 L525.2,833.7 L527.3,833.9 L529.4,834.1 L531.5,834.3 L533.6,834.4 L535.7,834.6 L537.8,834.7 L539.9,834.8 L542.0,834.9 L544.1,835.0 L546.2,835.1 L548.3,835.2 L550.4,835.3 L552.5,835.3 L554.6,835.4 L556.7,835.5 L558.8,835.5 L560.9,835.6 L563.0,835.6 L565.1,835.7 L567.2,835.8 L569.3,835.8 L571.4,835.9 L573.5,835.9 L575.6,835.9 L577.7,836.0 L579.8,836.0 L581.9,836.1 L584.0,836.1 L586.0,836.2 L588.1,836.2 L590.2,836.3 L592.3,836.4 L594.4,836.4 L596.5,836.5 L598.6,836.5 L600.7,836.6 L602.8,836.7 L604.9,836.8 L607.0,836.9 L609.1,837.0 L611.2,837.1 L613.3,837.2 L615.4,837.4 L617.5,837.5 L619.6,837.6 L621.7,837.8 L623.8,837.9 L625.9,838.1 L628.0,838.2 L630.1,838.3 L632.2,838.5 L634.3,838.6 L636.4,838.8 L638.5,838.9 L640.6,839.1 L642.7,839.3 L644.8,839.4 L646.9,839.6 L649.0,839.8 L651.0,840.0 L653.1,840.2 L655.2,840.3 L657.3,840.5 L659.4,840.7 L661.5,840.9 L663.6,841.0 L665.7,841.2 L667.8,841.4 L669.9,841.6 L672.0,841.8 L674.1,842.0 L676.2,842.3 L678.3,842.5 L680.4,842.8 L682.5,843.1 L684.6,843.4 L686.7,843.8 L688.8,844.1 L690.9,844.5 L693.0,844.9 L695.1,845.3 L697.2,845.8 L699.3,846.2 L701.4,846.7 L703.5,847.1 L705.6,847.6 L707.7,848.0 L709.8,848.5 L711.9,848.9 L713.9,849.4 L716.0,849.8 L718.1,850.2 L720.2,850.6 L722.3,851.1 L724.4,851.5 L726.5,851.9 L728.6,852.3 L730.7,852.7 L732.8,853.1 L734.9,853.5 L737.0,853.9 L739.1,854.3 L741.2,854.6 L743.3,855.0 L745.4,855.4 L747.5,855.7 L749.6,856.0 L751.7,856.4 L753.8,856.9 L755.9,857.1 L758.0,857.1 L760.1,857.2 L762.2,857.2 L764.3,857.3 L766.4,857.3 L768.5,857.3 L770.6,857.3 L772.7,857.3 L774.8,857.3 L776.8,857.3 L778.9,857.3 L781.0,857.3 L783.1,857.3 L785.2,857.3 L787.3,857.3 L789.4,857.2 L791.5,857.2 L793.6,857.2 L795.7,857.2 L797.8,857.2 L799.9,857.2 L802.0,857.2 L804.1,857.2 L806.2,857.2 L808.3,857.2 L810.4,857.2 L812.5,857.1 L814.6,857.1 L816.7,857.1 L818.8,857.1 L820.9,857.1 L823.0,857.1 L825.1,857.1 L827.2,857.1 L829.3,857.0 L831.4,857.0 L833.5,857.0 L835.6,857.0 L837.6,857.0 L839.7,857.0 L841.8,857.0 L843.9,857.0 L846.0,856.9 L848.1,856.9 L850.2,856.9 L852.3,856.9 L854.4,856.9 L856.5,856.9 L858.6,856.9 L860.7,856.9 L862.8,856.8 L864.9,856.8 L867.0,856.8 L869.1,856.8" stroke="#000" stroke-width="3.0" fill="none" stroke-linejoin="round"/>
<path d="M240.1,830.5 L245.7,830.3 L253.5,830.1 L262.9,829.9 L273.0,829.6 L283.3,829.3 L293.0,829.0 L301.4,828.6 L307.8,828.3 L312.2,828.0 L315.2,827.6 L317.2,827.3 L318.4,826.9 L319.3,826.6 L320.0,826.2 L320.9,825.8 L322.4,825.4 L324.2,825.0 L326.1,824.6 L327.9,824.1 L329.7,823.7 L331.5,823.2 L333.4,822.7 L335.2,822.2 L337.0,821.7 L338.8,821.1 L340.5,820.6 L342.3,820.0 L344.0,819.4 L345.8,818.7 L347.6,818.1 L349.5,817.4 L351.5,816.6 L353.6,815.8 L355.9,814.9 L358.3,814.0 L360.7,813.1 L363.2,812.1 L365.6,811.2 L367.8,810.2 L370.0,809.3 L372.0,808.4 L373.9,807.4 L375.8,806.4 L377.6,805.4 L379.3,804.4 L381.0,803.5 L382.8,802.8 L384.6,802.1 L386.4,801.6 L388.2,801.2 L390.0,800.9 L391.9,800.6 L393.7,800.5 L395.5,800.3 L397.3,800.1 L399.1,799.9 L400.9,799.7 L402.7,799.4 L404.6,799.1 L406.4,798.9 L408.2,798.7 L410.0,798.5 L411.9,798.4 L413.7,798.4 L415.5,798.5 L417.4,798.6 L419.2,798.9 L421.0,799.1 L422.8,799.5 L424.7,799.8 L426.5,800.2 L428.3,800.6 L430.1,801.0 L431.9,801.5 L433.7,802.0 L435.6,802.5 L437.4,803.0 L439.2,803.7 L441.0,804.3 L442.8,805.0 L444.6,805.8 L446.4,806.6 L448.3,807.5 L450.1,808.4 L451.9,809.4 L453.7,810.3 L455.6,811.3 L457.4,812.2 L459.2,813.1 L461.1,814.0 L462.9,815.0 L464.7,815.9 L466.5,816.8 L468.4,817.7 L470.2,818.6 L472.0,819.5 L473.8,820.4 L475.6,821.3 L477.4,822.2 L479.2,823.0 L481.1,823.9 L482.9,824.7 L484.7,825.4 L486.5,826.1 L488.4,826.7 L490.3,827.2 L492.2,827.7 L494.1,828.2 L496.0,828.6 L497.8,829.0 L499.5,829.3 L501.1,829.7 L502.3,830.0 L503.0,830.4 L503.5,830.6 L504.0,830.9 L504.7,831.1 L505.8,831.4 L507.5,831.6 L510.0,831.9 L513.5,832.2 L517.8,832.5 L522.8,832.9 L528.1,833.2 L533.6,833.5 L539.0,833.8 L544.1,833.9 L548.7,834.0 L552.9,833.9 L557.0,833.8 L561.0,833.5 L564.8,833.2 L568.4,832.8 L571.8,832.5 L574.9,832.1 L577.8,831.8 L580.3,831.6 L582.5,831.4 L584.3,831.2 L586.0,831.1 L587.6,830.8 L589.1,830.6 L590.7,830.2 L592.4,829.6 L594.2,828.9 L596.0,828.2 L597.9,827.3 L599.7,826.4 L601.5,825.3 L603.4,824.2 L605.2,823.0 L607.0,821.6 L608.8,820.1 L610.7,818.5 L612.6,816.8 L614.5,815.0 L616.3,813.1 L618.2,811.1 L619.9,809.1 L621.6,807.0 L623.2,804.9 L624.7,802.7 L626.2,800.4 L627.6,798.1 L629.0,795.7 L630.4,793.2 L631.8,790.7 L633.2,788.1 L634.6,785.4 L636.1,782.7 L637.5,780.0 L638.9,777.1 L640.4,774.2 L641.9,771.2 L643.4,768.0 L645.0,764.8 L646.7,761.3 L648.6,757.6 L650.5,753.7 L652.5,749.7 L654.4,745.8 L656.3,742.0 L657.9,738.5 L659.4,735.4 L660.6,732.7 L661.5,730.5 L662.3,728.6 L663.0,726.7 L663.6,724.9 L664.3,723.0 L665.2,720.8 L666.3,718.2 L667.6,715.3 L669.1,712.3 L670.7,709.2 L672.3,705.8 L674.0,702.3 L675.7,698.4 L677.4,694.2 L679.0,689.7 L680.6,684.6 L682.2,679.0 L683.9,673.0 L685.5,666.8 L687.1,660.4 L688.6,654.1 L690.0,648.0 L691.2,642.3 L692.3,636.8 L693.3,631.2 L694.2,625.7 L695.0,620.3 L695.8,615.2 L696.5,610.3 L697.1,605.7 L697.7,601.6 L698.2,598.0 L698.7,594.8 L699.0,592.0 L699.3,589.5 L699.6,587.1 L699.9,584.8 L700.2,582.5 L700.5,580.0 L700.9,577.5 L701.2,575.1 L701.6,572.7 L702.0,570.3 L702.4,568.0 L702.8,565.7 L703.2,563.3 L703.6,560.8 L704.0,558.3 L704.4,555.7 L704.8,553.1 L705.2,550.4 L705.7,547.8 L706.1,545.2 L706.5,542.6 L707.0,540.0 L707.5,537.4 L708.0,534.9 L708.5,532.3 L709.0,529.8 L709.6,527.3 L710.1,524.8 L710.6,522.4 L711.0,520.0 L711.4,517.7 L711.8,515.4 L712.1,513.3 L712.4,511.1 L712.8,509.0 L713.1,506.8 L713.4,504.6 L713.8,502.4 L714.2,500.1 L714.6,497.6 L715.1,495.1 L715.5,492.5 L716.0,490.1 L716.4,487.8 L716.8,485.8 L717.2,484.0 L717.5,482.6 L717.9,481.4 L718.2,480.4 L718.4,479.6 L718.7,478.9 L719.0,478.3 L719.3,477.6 L719.6,477.0 L719.9,476.3 L720.2,475.5 L720.5,474.7 L720.8,474.0 L721.1,473.5 L721.5,473.1 L721.9,473.1 L722.3,473.3 L722.8,473.9 L723.3,474.7 L723.9,475.8 L724.5,477.1 L725.1,478.6 L725.7,480.2 L726.3,482.1 L726.9,484.0 L727.4,486.2 L728.0,488.7 L728.5,491.4 L729.0,494.2 L729.6,497.1 L730.0,500.0 L730.5,502.8 L730.9,505.3 L731.3,507.6 L731.6,509.7 L731.8,511.8 L732.1,513.8 L732.3,515.8 L732.6,517.9 L732.9,520.1 L733.2,522.6 L733.6,525.2 L733.9,527.8 L734.3,530.5 L734.7,533.3 L735.2,536.3 L735.6,539.4 L736.1,542.9 L736.6,546.6 L737.1,550.5 L737.7,554.4 L738.3,558.6 L738.9,562.9 L739.6,567.7 L740.2,572.8 L740.9,578.6 L741.6,585.0 L742.3,592.4 L743.1,600.7 L743.9,609.7 L744.7,619.1 L745.5,628.6 L746.3,638.0 L747.0,646.9 L747.7,655.0 L748.3,662.6 L748.9,669.9 L749.4,677.0 L749.9,683.8 L750.3,690.3 L750.8,696.5 L751.3,702.3 L751.9,707.8 L752.5,712.7 L753.1,717.0 L753.8,720.8 L754.4,724.4 L755.1,727.8 L755.8,731.4 L756.5,735.2 L757.2,739.4 L758.0,744.2 L758.8,749.4 L759.6,755.0 L760.4,760.6 L761.3,766.0 L762.1,771.2 L762.8,775.9 L763.5,780.0 L764.1,783.3 L764.6,786.0 L765.1,788.3 L765.5,790.3 L766.0,792.1 L766.4,793.9 L767.0,795.8 L767.6,797.9 L768.3,800.2 L769.1,802.6 L769.9,804.9 L770.8,807.3 L771.6,809.7 L772.5,812.0 L773.5,814.4 L774.4,816.8 L775.3,819.2 L776.2,821.7 L777.2,824.3 L778.1,826.8 L779.1,829.3 L780.2,831.6 L781.3,833.8 L782.5,835.8 L783.8,837.6 L785.0,839.2 L786.3,840.7 L787.7,842.0 L789.2,843.3 L790.8,844.5 L792.6,845.6 L794.7,846.6 L797.0,847.6 L799.6,848.4 L802.4,849.1 L805.3,849.8 L808.3,850.4 L811.4,851.0 L814.6,851.5 L817.7,852.0 L820.9,852.5 L824.2,852.9 L827.6,853.2 L831.1,853.6 L834.6,853.9 L838.0,854.1 L841.4,854.4 L844.7,854.7 L848.0,855.0 L851.6,855.3 L855.1,855.6 L858.6,855.9 L861.9,856.2 L864.8,856.4 L867.2,856.6 L869.1,856.8" stroke="#000" stroke-width="2.3" fill="none" stroke-linejoin="round"/>
<path d="M240.1,831.0 L253.0,830.0 L254.5,827.0 L255.4,823.9 L261.2,822.4 L267.1,821.7 L270.7,820.3 L274.3,824.6 L278.7,827.5 L286.0,826.1 L290.4,818.8 L299.1,816.6 L307.8,826.8 L313.7,831.2 L318.8,837.7 L331.2,826.8 L338.4,812.2 L345.7,813.0 L353.0,817.3 L360.3,819.5 L367.0,818.0 L374.0,807.0 L380.2,802.1 L387.5,797.7 L391.9,802.1 L397.7,802.8 L403.5,812.2 L409.3,816.6 L421.0,805.7 L422.4,801.3 L426.8,802.8 L435.6,801.3 L439.9,800.6 L445.8,806.4 L451.6,809.3 L457.4,810.8 L463.2,812.2 L472.0,822.4 L482.2,829.7 L490.9,827.5 L501.1,828.3 L505.0,827.4 L510.8,830.3 L516.7,840.5 L522.5,844.2 L526.9,842.7 L535.6,848.5 L541.4,844.9 L547.2,834.7 L556.0,825.2 L566.2,824.5 L570.6,830.3 L572.0,837.6 L577.8,833.2 L586.6,831.1 L592.4,828.9 L601.2,820.9 L604.1,823.0 L611.4,817.9 L620.1,809.2 L628.8,795.4 L636.1,776.4 L645.0,758.9 L659.4,735.4 L666.3,718.2 L676.6,697.4 L683.5,673.3 L691.2,642.3 L697.7,608.0 L703.0,594.7 L709.5,555.8 L714.6,516.9 L717.7,496.7 L722.3,487.7 L725.5,490.0 L728.0,491.0 L731.0,505.0 L733.0,522.0 L736.6,546.6 L741.6,585.0 L747.7,655.0 L751.9,707.8 L757.2,739.4 L763.5,780.0 L767.6,797.9 L774.4,816.8 L782.5,834.4 L790.6,837.1 L797.4,838.5 L805.5,837.1 L812.2,841.2 L817.7,848.0 L827.1,849.3 L831.2,850.0 L836.6,849.3 L843.4,845.9 L848.8,849.3 L854.2,849.3 L858.3,853.4 L869.1,856.8" stroke="#000" stroke-width="2.5" fill="none" stroke-linejoin="round"/>
<path d="M240.1,830.5 L253.9,830.0 L255.4,826.0 L261.2,824.4 L267.1,823.7 L270.7,822.3 L274.3,826.6 L278.7,829.5 L286.0,828.1 L291.8,821.0 L299.1,819.5 L306.4,826.8 L313.7,837.0 L319.5,842.8 L329.7,837.0 L335.5,829.7 L339.9,825.4 L345.7,825.4 L350.1,829.0 L355.9,834.1 L366.1,842.8 L371.9,838.5 L374.4,837.0 L381.7,831.2 L387.5,829.7 L394.8,838.5 L402.1,845.8 L409.3,853.0 L416.6,847.2 L422.4,839.9 L432.6,838.5 L447.2,835.6 L460.3,834.8 L470.5,839.9 L479.3,842.1 L490.9,841.4 L498.2,838.5 L510.8,839.1 L518.1,847.1 L523.9,849.3 L529.8,848.5 L535.6,853.6 L542.9,846.4 L547.2,839.1 L554.5,830.3 L563.3,828.9 L569.1,831.1 L573.5,843.4 L580.8,846.4 L586.6,840.5 L592.4,834.7 L601.2,831.8 L607.0,836.2 L620.0,838.0 L632.0,841.0 L643.3,843.2 L651.0,849.0 L663.3,856.6 L671.6,843.2 L683.2,833.3 L693.2,846.6 L701.6,871.6 L716.5,874.9 L729.9,856.6 L741.5,858.2 L750.0,864.2 L758.1,865.5 L767.6,860.1 L777.1,854.7 L789.2,850.7 L805.5,845.2 L815.0,849.3 L825.8,853.4 L844.7,849.3 L852.8,853.4 L861.0,860.1 L865.0,861.5" stroke="#000" stroke-width="2.3" fill="none" stroke-linecap="round" stroke-dasharray="0.01 4.3"/>
<path d="M240.5,831.3 L300,832 L375,833.8 L450,835.3 L505,836.2 L560,836.6" stroke="#000" stroke-width="3.6" fill="none" stroke-linecap="round"/>
<g stroke="#000" stroke-width="2.2" fill="none"><path d="M413.1,719.5 V765"/><path d="M636.7,675.4 L667,706"/><path d="M772.5,564.1 L742,534"/></g>
<g fill="#000"><path d="M400.5,763.1 L425.6,763.1 L413.1,787.3 Z"/><path d="M682,719.5 L657.1,711.6 L673.7,695.4 Z"/><path d="M727.1,519.2 L752.9,527.5 L736.2,542.5 Z"/></g>
</svg>
</body></html>
